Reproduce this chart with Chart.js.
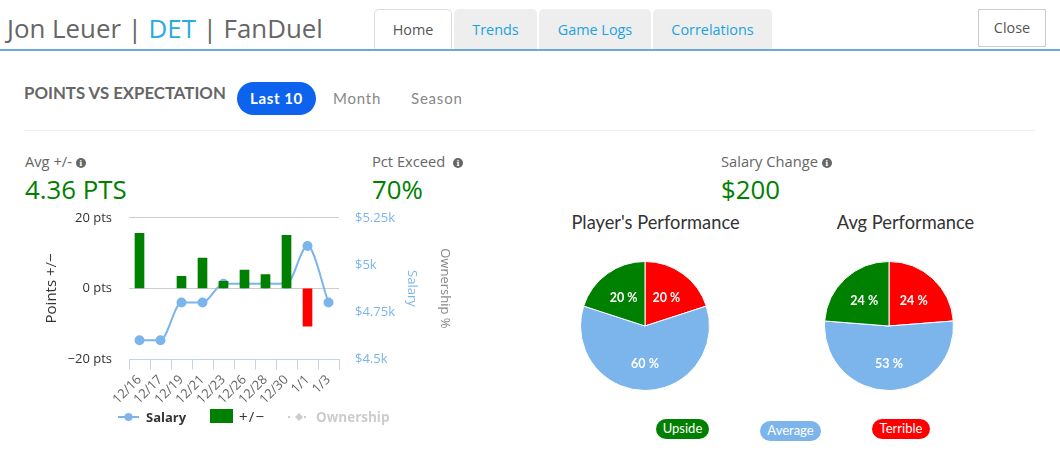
<!DOCTYPE html>
<html>
<head>
<meta charset="utf-8">
<title>Jon Leuer</title>
<script src="https://cdn.jsdelivr.net/npm/chart.js@4"></script>
<style>
html, body { margin: 0; padding: 0; background: #fff; }
body { width: 1060px; height: 464px; position: relative; overflow: hidden; font-family: "Open Sans", sans-serif; color: #666; }
.abs { position: absolute; white-space: nowrap; }
.tab { position: absolute; top: 9px; height: 40px; line-height: 41px; text-align: center; font-size: 14.4px; color: #1ba3dd; background: #eee; border-radius: 5px 5px 0 0; box-sizing: border-box; }
.tab.on { color: #555; background: #fff; border: 1px solid #ddd; border-bottom: 0; height: 41px; line-height: 39px; }
.lato { font-family: Lato, sans-serif; }
.big { font-size: 25.8px; color: #008000; line-height: 30px; }
.lab { font-size: 14.7px; line-height: 20px; color: #666; }
.info { display: inline-block; width: 10px; height: 10px; border-radius: 50%; background: #666; color: #fff; font: bold 8px/10px "DejaVu Serif", serif; text-align: center; vertical-align: 1px; }
.badge { position: absolute; height: 20px; line-height: 19px; border-radius: 10px; color: #fff; text-align: center; font: 13px/19px Lato, sans-serif; }
canvas { position: absolute; }
</style>
</head>
<body>
<div class="abs" style="left:7px;top:9px;font-size:25.85px;line-height:38px;color:#666">Jon Leuer | <span style="color:#29a9e0">DET</span> | FanDuel</div>
<div class="tab on" style="left:374px;width:78px">Home</div>
<div class="tab" style="left:454px;width:83px">Trends</div>
<div class="tab" style="left:539px;width:112px">Game Logs</div>
<div class="tab" style="left:653px;width:119px">Correlations</div>
<div class="abs" style="left:978px;top:9px;width:68px;height:38px;box-sizing:border-box;border:1px solid #ccc;text-align:center;font-size:14.4px;line-height:36px;color:#555;background:#fff">Close</div>
<div class="abs" style="left:0;top:49px;width:1060px;height:2px;background:#6aaad4"></div>

<div class="abs lato" style="left:24px;top:83px;font-size:16.8px;line-height:20px;font-weight:700;color:#666">POINTS VS EXPECTATION</div>
<div class="abs lato" style="left:237px;top:82px;width:79px;height:33px;border-radius:17px;background:#0d62ee;color:#fff;font-size:15px;line-height:33px;text-align:center;letter-spacing:.6px;font-weight:700">Last 10</div>
<div class="abs lato" style="left:333px;top:82px;font-size:15px;line-height:33px;color:#888;letter-spacing:.8px">Month</div>
<div class="abs lato" style="left:411px;top:82px;font-size:15px;line-height:33px;color:#888;letter-spacing:.8px">Season</div>
<div class="abs" style="left:24px;top:130px;width:1011px;height:1px;background:#eee"></div>

<div class="abs lab" style="left:25px;top:151px">Avg +/- <span class="info">i</span></div>
<div class="abs big" style="left:25px;top:174px">4.36 PTS</div>
<div class="abs lab" style="left:372px;top:151px">Pct Exceed &nbsp;<span class="info">i</span></div>
<div class="abs big" style="left:372px;top:174px">70%</div>
<div class="abs lab" style="left:721px;top:151px">Salary Change <span class="info">i</span></div>
<div class="abs big" style="left:721px;top:174px">$200</div>

<canvas id="mainChart" width="470" height="237" style="left:0;top:193px"></canvas>

<svg class="abs" style="left:112px;top:405px" width="34" height="24"><line x1="6" y1="12" x2="27" y2="12" stroke="#7cb5ec" stroke-width="2"/><circle cx="16.5" cy="12" r="4" fill="#7cb5ec"/></svg>
<div class="abs" style="left:146px;top:407px;font-size:13px;line-height:20px;font-weight:700;color:#333">Salary</div>
<div class="abs" style="left:210px;top:409px;width:23px;height:14px;background:#008000"></div>
<div class="abs" style="left:239px;top:406px;font-size:15px;line-height:20px;color:#333;letter-spacing:1.2px">+/−</div>
<svg class="abs" style="left:285px;top:409px" width="26" height="16"><line x1="3" y1="8" x2="24" y2="8" stroke="#ccc" stroke-width="2" stroke-dasharray="2 6"/><path d="M14 4 L18 8 L14 12 L10 8 Z" fill="#ccc"/></svg>
<div class="abs" style="left:316px;top:407px;font-size:13.5px;line-height:20px;font-weight:700;color:#ccc">Ownership</div>

<div class="abs lato" style="left:505.5px;top:210px;width:300px;text-align:center;font-size:18.3px;line-height:24px;color:#333">Player's Performance</div>
<div class="abs lato" style="left:755.5px;top:210px;width:300px;text-align:center;font-size:18.3px;line-height:24px;color:#333">Avg Performance</div>
<canvas id="playerPie" width="160" height="160" style="left:564.5px;top:246px"></canvas>
<canvas id="avgPie" width="160" height="160" style="left:809px;top:246px"></canvas>

<div class="badge" style="left:656px;top:419px;width:53px;background:#008000">Upside</div>
<div class="badge" style="left:760px;top:421px;width:61px;background:#7cb5ec">Average</div>
<div class="badge" style="left:872px;top:419px;width:58px;background:#ff0000">Terrible</div>

<script>
var dates = ['12/16', '12/17', '12/19', '12/21', '12/23', '12/26', '12/28', '12/30', '1/1', '1/3'];
var plusMinus = [15.6, null, 3.4, 8.6, 2, 5.2, 3.9, 15, -10.7, null];
var salary = [4600, 4600, 4800, 4800, 4900, 4900, 4900, 4900, 5100, 4800];
var pieLabels = ['Terrible', 'Average', 'Upside'];
var playerPct = [20, 60, 20];
var avgPct = [24, 53, 24];
var pointTicks = [-20, 0, 20];
var salaryTicks = [4500, 4750, 5000, 5250];

var GREEN = '#008000', RED = '#ff0000', BLUE = '#7cb5ec', AXIS = '#c4d2ea';
var tickFont = { family: 'Open Sans', size: 13 };

function fixedWidth(w) {
    return function(axis) { axis.width = w; };
}

// x axis line and the tick marks between categories
var categoryTicks = {
    id: 'categoryTicks',
    afterDraw: function(chart) {
        var area = chart.chartArea;
        var ctx = chart.ctx;
        var y = Math.round(area.bottom) + 0.5;
        var step = (area.right - area.left) / dates.length;
        ctx.save();
        ctx.strokeStyle = AXIS;
        ctx.lineWidth = 1;
        ctx.beginPath();
        ctx.moveTo(area.left, y);
        ctx.lineTo(area.right, y);
        for (var i = 0; i <= dates.length; i++) {
            var px = Math.round(area.left + i * step) + 0.5;
            ctx.moveTo(px, y);
            ctx.lineTo(px, y + 10);
        }
        ctx.stroke();
        ctx.restore();
    }
};

new Chart(document.getElementById('mainChart').getContext('2d'), {
    data: {
        labels: dates,
        datasets: [{
            type: 'bar',
            label: '+/-',
            data: plusMinus,
            yAxisID: 'y',
            order: 1,
            barThickness: 9,
            backgroundColor: plusMinus.map(function(v) { return v < 0 ? RED : GREEN; }),
            borderWidth: 0
        }, {
            type: 'line',
            label: 'Salary',
            data: salary,
            yAxisID: 'ySalary',
            order: 2,
            borderColor: BLUE,
            backgroundColor: BLUE,
            borderWidth: 2,
            pointRadius: 4,
            cubicInterpolationMode: 'monotone'
        }]
    },
    options: {
        responsive: false,
        animation: false,
        layout: { padding: 0 },
        plugins: { legend: { display: false }, tooltip: { enabled: false } },
        scales: {
            x: {
                offset: true,
                grid: { drawOnChartArea: false, tickLength: 10, offset: true },
                ticks: { minRotation: 45, maxRotation: 45, autoSkip: false, color: '#666', font: tickFont, padding: 3 },
                afterFit: function(axis) { axis.height = 71; }
            },
            y: {
                position: 'left',
                min: -20,
                max: 20,
                afterBuildTicks: function(axis) { axis.ticks = pointTicks.map(function(v) { return { value: v }; }); },
                border: { display: false },
                grid: {
                    drawTicks: false,
                    color: function(c) { return c.tick.value === -20 ? 'rgba(0,0,0,0)' : '#ccc'; }
                },
                ticks: {
                    color: '#333',
                    font: tickFont,
                    padding: 17,
                    callback: function(v) { return (v < 0 ? '\u2212' + (-v) : v) + ' pts'; }
                },
                title: { display: true, text: 'Points +/\u2212', color: '#333', font: { family: 'Open Sans', size: 15 }, padding: { top: 43, bottom: 0 } },
                afterFit: fixedWidth(129)
            },
            ySalary: {
                position: 'right',
                min: 4500,
                max: 5250,
                afterBuildTicks: function(axis) { axis.ticks = salaryTicks.map(function(v) { return { value: v }; }); },
                border: { display: false },
                grid: { display: false, drawTicks: false },
                ticks: {
                    color: BLUE,
                    font: tickFont,
                    padding: 16,
                    callback: function(v) { return '$' + v / 1000 + 'k'; }
                },
                title: { display: true, text: 'Salary', color: BLUE, font: { family: 'Open Sans', size: 13 }, padding: { top: 2, bottom: 0 } },
                afterFit: fixedWidth(83)
            },
            yOwnership: {
                position: 'right',
                min: 0,
                max: 100,
                border: { display: false },
                grid: { display: false, drawTicks: false },
                ticks: { display: false },
                title: { display: true, text: 'Ownership %', color: '#888', font: { family: 'Open Sans', size: 13 }, padding: { top: 17, bottom: 0 } },
                afterFit: fixedWidth(48)
            }
        }
    },
    plugins: [categoryTicks]
});

// percent labels inside the slices
var sliceLabels = {
    id: 'sliceLabels',
    afterDatasetsDraw: function(chart) {
        var ctx = chart.ctx;
        var ds = chart.data.datasets[0];
        chart.getDatasetMeta(0).data.forEach(function(arc, i) {
            var mid = (arc.startAngle + arc.endAngle) / 2;
            var dist = arc.outerRadius * 0.565;
            ctx.save();
            ctx.fillStyle = '#fff';
            ctx.font = 'bold 12.5px Lato';
            ctx.textAlign = 'center';
            ctx.textBaseline = 'middle';
            ctx.fillText(ds.data[i] + ' %', arc.x + Math.cos(mid) * dist, arc.y + Math.sin(mid) * dist + 1.5);
            ctx.restore();
        });
    }
};

function makePie(id, values) {
    new Chart(document.getElementById(id).getContext('2d'), {
        type: 'pie',
        data: {
            labels: pieLabels,
            datasets: [{
                data: values,
                backgroundColor: [RED, BLUE, GREEN],
                borderColor: '#fff',
                borderWidth: 1,
                radius: 64.5
            }]
        },
        options: {
            responsive: false,
            animation: false,
            plugins: { legend: { display: false }, tooltip: { enabled: false } }
        },
        plugins: [sliceLabels]
    });
}
makePie('playerPie', playerPct);
makePie('avgPie', avgPct);
</script>
</body>
</html>
